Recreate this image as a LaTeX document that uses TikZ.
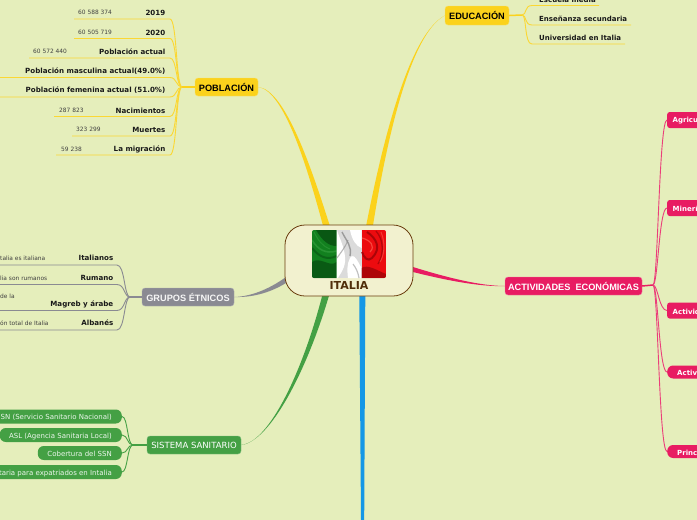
\documentclass[tikz,border=0pt]{standalone}
\usepackage{fontspec}
\setmainfont{DejaVu Sans}
\newfontfamily\headfont{Liberation Sans}
\usetikzlibrary{calc}
\definecolor{bgc}{HTML}{E5EEBB}
\definecolor{yel}{HTML}{FBD21C}
\definecolor{yelb}{HTML}{F8DF6A}
\definecolor{gry}{HTML}{8A8A92}
\definecolor{grn}{HTML}{44A044}
\definecolor{pnk}{HTML}{E81C62}
\definecolor{blu}{HTML}{1497E6}
\definecolor{brn}{HTML}{6A3D0E}
\definecolor{rootf}{HTML}{F2F1CF}
\definecolor{fgreen}{HTML}{12801F}
\definecolor{fdgreen}{HTML}{064A10}
\definecolor{flgreen}{HTML}{3FA648}
\definecolor{fred}{HTML}{EC0B0F}
\definecolor{fdred}{HTML}{8E0206}
\definecolor{flred}{HTML}{FF6A5A}
\tikzset{
 x=1pt,y=-1pt,
 mainbox/.style={rounded corners=3pt,inner sep=0pt,minimum height=18pt,font=\headfont\bfseries\fontsize{9.2}{11}\selectfont},
 leaft/.style={anchor=east,inner sep=0pt,yshift=-1pt,font=\bfseries\fontsize{7.1}{8}\selectfont,text=black!90},
 valt/.style={anchor=west,inner sep=0pt,yshift=-.5pt,font=\fontsize{5.9}{7}\selectfont,text=black!75},
 edut/.style={anchor=west,inner sep=0pt,yshift=-1pt,font=\bfseries\fontsize{7}{8}\selectfont,text=black!90},
 pill/.style={rounded corners=6pt,fill=grn,inner sep=0pt,minimum height=14pt},
 pillt/.style={anchor=east,inner sep=0pt,yshift=-.8pt,text=white!90!grn,font=\fontsize{7}{8}\selectfont},
 acc/.style={fill=pnk,inner sep=0pt,anchor=west,minimum width=50pt},
 acct/.style={anchor=west,inner sep=0pt,yshift=-1pt,text=white,font=\bfseries\fontsize{7}{8}\selectfont},
 yline/.style={draw=yel!90!white,line width=.9pt},
 gline/.style={draw=gry,line width=.9pt},
 grline/.style={draw=grn,line width=.9pt},
 pline/.style={draw=pnk!85!white,line width=.9pt},
}
\begin{document}
\begin{tikzpicture}
\clip (0,0) rectangle (697,520);
\fill[bgc] (0,0) rectangle (697,520);

% branch anchor points on the central topic
\coordinate (rPob) at (326.5,226);
\coordinate (rEdu) at (369.5,226);
\coordinate (rGru) at (286,280);
\coordinate (rSis) at (325.5,296);
\coordinate (rAct) at (413,269.5);
\coordinate (rBlu) at (362.3,296);
\coordinate (bluEnd) at (362.6,520);

% main nodes
\node[mainbox,fill=yel,draw=yelb,minimum width=63pt] (pob) at (226.5,87) {POBLACIÓN};
\node[mainbox,fill=yel,draw=yelb,minimum width=64pt,minimum height=19pt] (edu) at (477,15.5) {EDUCACIÓN};
\node[mainbox,fill=gry,draw=gry!70!white,text=white!92!gry,minimum width=92pt] (gru) at (188,297) {GRUPOS ÉTNICOS};
\node[mainbox,fill=grn,draw=grn!70!white,text=white,minimum width=94pt,font=\fontsize{8.5}{9}\selectfont] (sis) at (194,445) {SISTEMA SANITARIO};
\node[mainbox,fill=pnk,draw=pnk!60!white,text=white,minimum width=137pt] (act) at (573.5,286) {ACTIVIDADES\ \ ECONÓMICAS};

% tapered main connectors
\fill[yel] ($(rPob)+(3.4,0)$) .. controls (312,170) and (285.5,89.5) .. (pob.east) .. controls (284.5,90.5) and (308,170) .. ($(rPob)+(-3.4,0)$) -- cycle;
\fill[yel] ($(rEdu)+(3.4,0)$) .. controls (385,150) and (408.5,35) .. (edu.west) .. controls (407.5,35) and (381,150) .. ($(rEdu)+(-3.4,0)$) -- cycle;
\fill[gry] ($(rGru)+(0,-3)$) .. controls (268,290) and (250,296.5) .. (gru.east) .. controls (250,297.5) and (268,294) .. ($(rGru)+(0,3)$) -- cycle;
\fill[grn] ($(rSis)+(3.4,0)$) .. controls (307,370) and (270.5,441.5) .. (sis.east) .. controls (269.5,442.5) and (303,370) .. ($(rSis)+(-3.4,0)$) -- cycle;
\fill[pnk] ($(rAct)+(0,-2.5)$) .. controls (445,277) and (480,286) .. (act.west) .. controls (480,287) and (445,280) .. ($(rAct)+(0,2.5)$) -- cycle;
\fill[blu] ($(rBlu)+(-3,0)$) -- ($(rBlu)+(3,0)$) -- ($(bluEnd)+(1.6,0)$) -- ($(bluEnd)+(-1.6,0)$) -- cycle;

% central topic
\node[draw=brn,line width=.8pt,fill=rootf,rounded corners=20pt,minimum width=128pt,minimum height=71pt,inner sep=0pt] (root) at (349,260.5) {};
\begin{scope}
\path[clip,rounded corners=2pt] (312,230) rectangle (386,278);
% green band
\fill[fgreen] (312,230) rectangle (336.5,278);
\fill[fdgreen,opacity=.75] (316,230) .. controls (322,240) and (328,246) .. (336.5,246) -- (336.5,230) -- cycle;
\fill[fdgreen,opacity=.7] (312,262) .. controls (320,256) and (330,268) .. (336.5,262) -- (336.5,278) -- (312,278) -- cycle;
\draw[flgreen,opacity=.5,line width=1.6pt] (312,240) .. controls (318,250) and (326,254) .. (336.5,251);
\draw[flgreen,opacity=.4,line width=1pt] (314,232) .. controls (318,240) and (322,246) .. (330,249);
\draw[fdgreen,opacity=.5,line width=2pt] (312,248) .. controls (320,258) and (328,260) .. (336.5,256);
% white band
\fill[black!14] (336.5,230) rectangle (361.5,278);
\fill[white] (337,230) .. controls (340,240) and (346,250) .. (345,262) .. controls (344,270) and (340,274) .. (338,278) -- (336.5,278) -- (336.5,230) -- cycle;
\fill[white] (350,230) -- (361.5,230) -- (361.5,248) .. controls (356,246) and (352,240) .. (350,230) -- cycle;
\fill[white] (350,258) .. controls (354,252) and (358,262) .. (361.5,268) -- (361.5,278) -- (348,278) .. controls (347,270) and (347,264) .. (350,258) -- cycle;
\draw[black!50,opacity=.7,line width=1.4pt] (342,232) .. controls (347,242) and (352,246) .. (350,256);
\draw[black!45,opacity=.6,line width=1.1pt] (337,258) .. controls (341,252) and (345,248) .. (348,240);
\draw[black!40,opacity=.6,line width=1.2pt] (353,264) .. controls (356,268) and (358,272) .. (359,278);
% red band
\fill[fred] (361.5,230) rectangle (386,278);
\fill[fdred,opacity=.65] (361.5,268) .. controls (368,264) and (376,270) .. (386,274) -- (386,278) -- (361.5,278) -- cycle;
\draw[fdred,opacity=.7,line width=2pt] (367,232) .. controls (376,238) and (382,248) .. (372,258) .. controls (368,262) and (364,258) .. (362,252);
\draw[fdred,opacity=.6,line width=1.3pt] (376,231) .. controls (384,240) and (384,254) .. (378,264);
\draw[flred,opacity=.6,line width=1.2pt] (362,238) .. controls (370,240) and (376,246) .. (370,252);
\draw[flred,opacity=.5,line width=1pt] (381,232) .. controls (386,244) and (384,256) .. (380,262);
\end{scope}
\node[inner sep=0pt,text=brn!75!black,font=\bfseries\fontsize{11}{12}\selectfont] (rootlabel) at (349,285.5) {ITALIA};

% POBLACION
\coordinate (pobhub) at (182,87);
\draw[yel,line width=1.5pt] (pob.west) -- (pobhub);
\foreach \n/\y/\sx/\ty/\txt in {
 a/19/74/11.5/2019, b/38.5/74/31.5/2020, c/58/29/50.5/Población actual,
 d/77.5/-2/70.5/Población masculina actual(49.0\%), e/97/-2/89.5/Población femenina actual (51.0\%),
 f/116.5/54/109.5/Nacimientos, g/136/72/128.5/Muertes, h/155/56/148.5/La migración}{
 \coordinate (pe\n) at (170,\y);
 \coordinate (ps\n) at (\sx,\y);
 \node[leaft] (pt\n) at (165.5,\ty) {\txt};
 \draw[yline] (pobhub) .. controls (176,87) and (177,\y) .. (pe\n) -- (ps\n);
}
\node[valt] (pva) at (78,12) {60 588 374};
\node[valt] (pvb) at (78,32) {60 505 719};
\node[valt] (pvc) at (33,51) {60 572 440};
\node[valt] (pvf) at (59,110) {287 823};
\node[valt] (pvg) at (76,129) {323 299};
\node[valt] (pvh) at (61,148.5) {59 238};

% EDUCACION
\coordinate (eduhub) at (522,15);
\draw[yel,line width=1.5pt] (edu.east) -- (eduhub);
\foreach \n/\y/\ex/\ty/\txt in {a/5.5/599/-1/Escuela media, b/25/631/18/Enseñanza secundaria, c/44/625/37/Universidad en Italia}{
 \coordinate (es\n) at (532,\y);
 \coordinate (ee\n) at (\ex,\y);
 \node[edut] (et\n) at (539,\ty) {\txt};
 \draw[yline] (eduhub) .. controls (527,15) and (524,\y) .. (es\n) -- (ee\n);
}

% GRUPOS
\coordinate (gruhub) at (130,297);
\draw[gry,line width=1.5pt] (gru.west) -- (gruhub);
\foreach \n/\y/\ty/\txt in {a/265/257/Italianos, b/284.5/277/Rumano, c/310.5/303/Magreb y árabe, d/330/322/Albanés}{
 \coordinate (ge\n) at (117,\y);
 \coordinate (gs\n) at (-2,\y);
 \node[leaft] (gt\n) at (113.5,\ty) {\txt};
 \draw[gline] (gruhub) .. controls (124,297) and (125,\y) .. (ge\n) -- (gs\n);
}
\node[valt] (gva) at (0,258) {talia es italiana};
\node[valt] (gvb) at (0,278) {lia son rumanos};
\node[valt] (gvc) at (0,296) {de la};
\node[valt] (gvd) at (0,323) {ón total de Italia};

% SISTEMA
\coordinate (sishub) at (133,445);
\draw[grn,line width=1.5pt] (sis.west) -- (sishub);
\node[pill,anchor=east,minimum width=142pt] (s1) at (122,416.5) {};
\node[pill,anchor=east,minimum width=122pt] (s2) at (122,435) {};
\node[pill,anchor=east,minimum width=84pt] (s3) at (122,453) {};
\node[pill,anchor=east,minimum width=160pt] (s4) at (122,472) {};
\node[pillt] (s1t) at (112,416.5) {SN (Servicio Sanitario Nacional)};
\node[pillt] (s2t) at (112,435.5) {ASL (Agencia Sanitaria Local)};
\node[pillt] (s3t) at (112,453.5) {Cobertura del SSN};
\node[pillt] (s4t) at (112,472.5) {taria para expatriados en Intalia};
\foreach \n in {s1,s2,s3,s4}{
 \draw[grline] (sishub) .. controls (127,445) and (128,0|-\n.east) .. (\n.east);
}

% ACTIVIDADES
\coordinate (acthub) at (653,285);
\draw[pnk,line width=1.5pt] (act.east) -- (acthub);
\node[acc,rounded corners=2.5pt,minimum height=16pt] (a1) at (667,120) {};
\node[acc,rounded corners=2.5pt,minimum height=16pt] (a2) at (667,208) {};
\node[acc,rounded corners=2.5pt,minimum height=16pt] (a3) at (667,310.5) {};
\node[acc,rounded corners=6pt,minimum height=13pt] (a4) at (667,372) {};
\node[acc,rounded corners=6pt,minimum height=13pt] (a5) at (667,451.5) {};
\foreach \n/\tx/\txt in {a1/672.5/Agricul, a2/672.5/Minería, a3/672.5/Activida, a4/677/Activid, a5/677/Princ}{
 \node[acct] (\n t) at (\tx,0|-\n.west) {\txt};
 \draw[pline] (acthub) .. controls (658,285) and (659,0|-\n.west) .. (\n.west);
}
\end{tikzpicture}
\end{document}
